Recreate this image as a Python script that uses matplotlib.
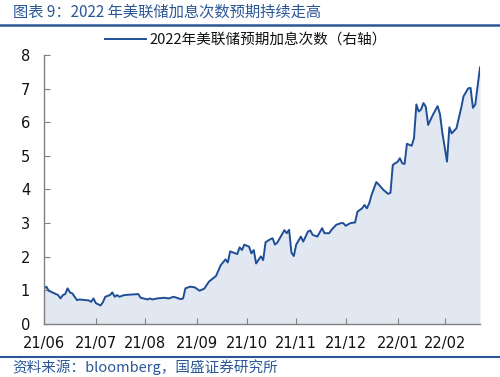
import matplotlib
matplotlib.use("Agg")
import matplotlib.pyplot as plt
import pandas as pd
import numpy as np

plt.rcParams['font.family'] = ['Noto Sans CJK SC', 'DejaVu Sans']

title = "图表 9：2022 年美联储加息次数预期持续走高"
series_name = "2022年美联储预期加息次数（右轴）"
source = "资料来源：bloomberg，国盛证券研究所"

holidays = ['2021-07-05', '2021-09-06', '2021-11-25', '2021-12-24',
            '2022-01-17', '2022-02-21']

dates = [
    '2021-06-01', '2021-06-02', '2021-06-03', '2021-06-09', '2021-06-10', '2021-06-11',
    '2021-06-14', '2021-06-15', '2021-06-16', '2021-06-17', '2021-06-21', '2021-06-22',
    '2021-06-28', '2021-06-29', '2021-06-30', '2021-07-01', '2021-07-06', '2021-07-07',
    '2021-07-08', '2021-07-12', '2021-07-13', '2021-07-14', '2021-07-15', '2021-07-16',
    '2021-07-20', '2021-07-28', '2021-07-29', '2021-08-03', '2021-08-04', '2021-08-05',
    '2021-08-09', '2021-08-12', '2021-08-16', '2021-08-18', '2021-08-23', '2021-08-24',
    '2021-08-25', '2021-08-27', '2021-08-31', '2021-09-02', '2021-09-07', '2021-09-09',
    '2021-09-14', '2021-09-16', '2021-09-20', '2021-09-21', '2021-09-22', '2021-09-27',
    '2021-09-28', '2021-09-29', '2021-09-30', '2021-10-04', '2021-10-05', '2021-10-06',
    '2021-10-07', '2021-10-11', '2021-10-12', '2021-10-13', '2021-10-15', '2021-10-18',
    '2021-10-19', '2021-10-20', '2021-10-25', '2021-10-26', '2021-10-27', '2021-10-28',
    '2021-10-29', '2021-11-01', '2021-11-03', '2021-11-04', '2021-11-08', '2021-11-09',
    '2021-11-10', '2021-11-12', '2021-11-16', '2021-11-17', '2021-11-19', '2021-11-22',
    '2021-11-24', '2021-11-29', '2021-11-30', '2021-12-01', '2021-12-03', '2021-12-07',
    '2021-12-08', '2021-12-10', '2021-12-13', '2021-12-14', '2021-12-15', '2021-12-16',
    '2021-12-20', '2021-12-21', '2021-12-23', '2021-12-28', '2021-12-29', '2021-12-30',
    '2021-12-31', '2022-01-03', '2022-01-04', '2022-01-05', '2022-01-06', '2022-01-07',
    '2022-01-11', '2022-01-12', '2022-01-13', '2022-01-14', '2022-01-18', '2022-01-19',
    '2022-01-20', '2022-01-21', '2022-01-25', '2022-01-27', '2022-01-28', '2022-01-31',
    '2022-02-02', '2022-02-03', '2022-02-04', '2022-02-08', '2022-02-10', '2022-02-11',
    '2022-02-15', '2022-02-16', '2022-02-17', '2022-02-18', '2022-02-23',
]
values = [
    1.06, 1.11, 0.99, 0.86, 0.76, 0.86,
    0.89, 1.06, 0.94, 0.91, 0.71, 0.73,
    0.70, 0.66, 0.76, 0.62, 0.55, 0.65,
    0.81, 0.86, 0.94, 0.81, 0.86, 0.81,
    0.86, 0.89, 0.78, 0.73, 0.76, 0.73,
    0.76, 0.78, 0.76, 0.81, 0.74, 0.76,
    1.06, 1.11, 1.09, 0.99, 1.05, 1.26,
    1.43, 1.75, 1.92, 1.83, 2.16, 2.08,
    2.28, 2.20, 2.36, 2.30, 2.10, 2.20,
    1.80, 2.01, 1.90, 2.43, 2.52, 2.55,
    2.36, 2.42, 2.79, 2.70, 2.80, 2.12,
    2.02, 2.36, 2.60, 2.45, 2.75, 2.78,
    2.65, 2.60, 2.85, 2.70, 2.70, 2.80,
    2.95, 3.00, 3.00, 2.92, 3.00, 3.02,
    3.34, 3.44, 3.54, 3.44, 3.59, 3.84,
    4.22, 4.15, 3.99, 3.87, 3.90, 4.73,
    4.78, 4.82, 4.93, 4.78, 4.76, 5.36,
    5.30, 5.53, 6.53, 6.32, 6.38, 6.57,
    6.46, 5.92, 6.22, 6.48, 6.25, 5.70,
    4.83, 5.85, 5.67, 5.82, 6.42, 6.77,
    7.01, 7.02, 6.43, 6.53, 7.63,
]
month_labels = ['21/06', '21/07', '21/08', '21/09', '21/10', '21/11', '21/12', '22/01', '22/02']
y_ticks = [0, 1, 2, 3, 4, 5, 6, 7, 8]

# trading-day calendar (category-like axis)
days = pd.bdate_range(dates[0], dates[-1])
days = days[~days.isin(pd.to_datetime(holidays))]
pos = days.get_indexer(pd.to_datetime(dates))
month_keys = days.to_period('M')
first_idx = [int(np.argmax(month_keys == p)) for p in pd.unique(month_keys)]

line_c = '#1F4E96'
fill_c = '#E1E8F1'
blue_t = '#2B5797'

fig = plt.figure(figsize=(5.0, 3.77), dpi=100)
ax = fig.add_axes([0.088, 0.1406, 0.872, 0.7135])

ax.fill_between(pos, values, 0, color=fill_c, lw=0)
ln, = ax.plot(pos, values, color=line_c, lw=1.4, label=series_name)

ax.set_xlim(0, len(days) - 1)
ax.set_ylim(0, 8)
ax.set_yticks(y_ticks)
ax.set_xticks(first_idx)
ax.set_xticklabels(month_labels[:len(first_idx)])
for s in ['top', 'right']:
    ax.spines[s].set_visible(False)
for s in ['left', 'bottom']:
    ax.spines[s].set_color('#808080')
    ax.spines[s].set_linewidth(1.0)
ax.tick_params(axis='both', direction='in', length=4, color='#808080',
               labelsize=10.5, labelcolor='#111111')
ax.tick_params(axis='y', pad=10)
ax.tick_params(axis='x', pad=9)
for t in ax.get_xticklabels() + ax.get_yticklabels():
    t.set_fontfamily('DejaVu Sans')

fig.legend(handles=[ln], loc='center', bbox_to_anchor=(0.492, 1 - 40 / 377),
           frameon=False, fontsize=10.5, handlelength=2.8, handletextpad=0.3,
           borderpad=0, labelcolor='#111111')

fig.text(0.026, 1 - 12 / 377, title, color=blue_t, fontsize=11, va='center', ha='left')
fig.add_artist(plt.Line2D([0, 1], [1 - 25 / 377, 1 - 25 / 377], color=blue_t, lw=1.8))
fig.add_artist(plt.Line2D([0, 1], [1 - 357 / 377, 1 - 357 / 377], color=blue_t, lw=1.5))
fig.text(0.024, 1 - 367 / 377, source, color=blue_t, fontsize=10.5, va='center', ha='left')

fig.savefig('out.png', dpi=100)
